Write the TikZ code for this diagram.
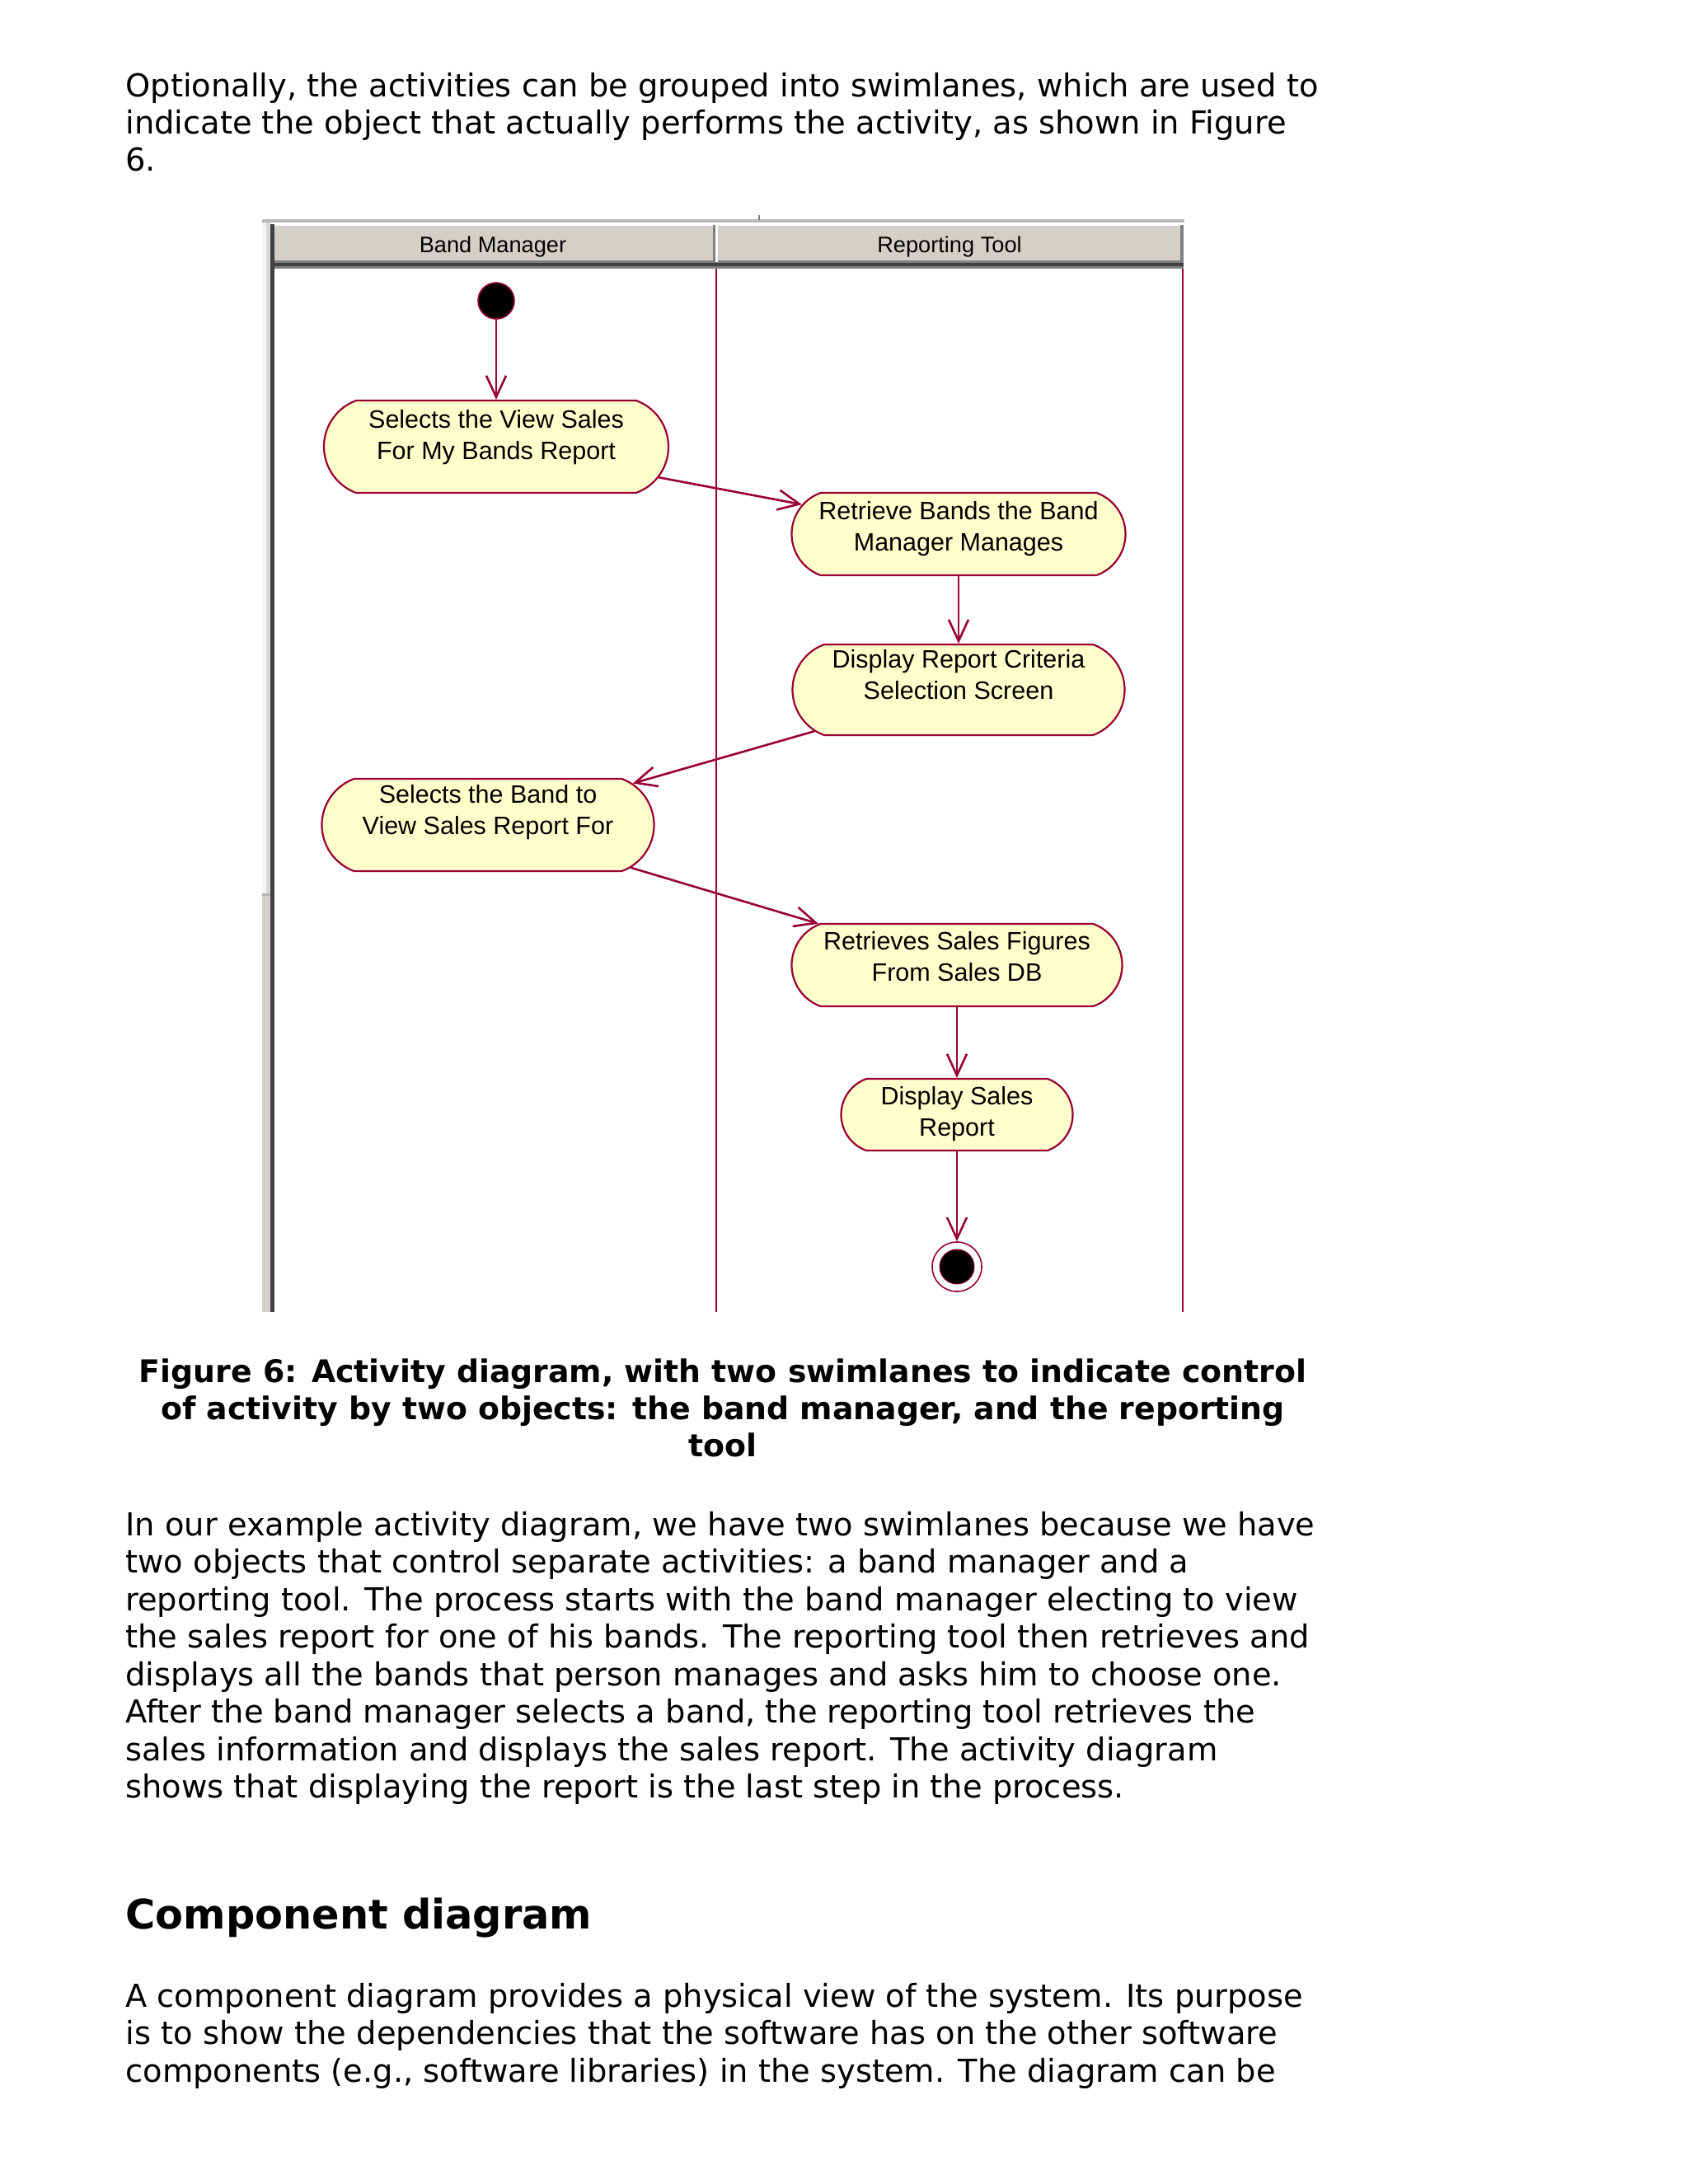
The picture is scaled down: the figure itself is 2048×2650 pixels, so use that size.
\documentclass[tikz,border=0pt]{standalone}
\usepackage{fontspec}
\setmainfont{DejaVu Sans}
\newfontfamily\rosefont{Liberation Sans}
\usetikzlibrary{shapes.misc,arrows.meta}
\definecolor{rose}{RGB}{153,0,51}
\definecolor{actfill}{RGB}{255,255,204}
\definecolor{wingray}{RGB}{212,208,200}
\definecolor{windark}{RGB}{64,64,64}
\definecolor{winmid}{RGB}{128,128,128}
\newcommand\acttext[3]{\makebox[0pt]{\raisebox{#3}[0pt][0pt]{\begin{tabular}[b]{@{}c@{}}#1\\#2\end{tabular}}}}
\tikzset{
  bodytext/.style={anchor=base west, inner sep=0pt, font=\fontsize{19.2pt}{23pt}\selectfont},
  captext/.style={anchor=base, inner sep=0pt, font=\fontsize{18.9pt}{22.8pt}\selectfont\bfseries},
  headtext/.style={anchor=base west, inner sep=0pt, font=\fontsize{24.7pt}{29pt}\selectfont\bfseries},
  lanehead/.style={anchor=base, inner sep=0pt, font=\rosefont\fontsize{13.6pt}{16pt}\selectfont},
  act/.style={rounded rectangle, rounded rectangle arc length=140, draw=rose, fill=actfill,
    line width=1.1pt, inner sep=0pt, font=\rosefont\fontsize{15.25pt}{19pt}\selectfont},
  flow/.style={draw=rose, line width=1.3pt, -{Straight Barb[length=13pt,width=12pt]}},
  laneline/.style={draw=rose, line width=1.2pt},
}
\begin{document}
\begin{tikzpicture}[x=0.5pt,y=-0.5pt]
\path[use as bounding box, fill=white] (0,0) rectangle (2048,2650);

% ---- first paragraph
\node[bodytext] (p1a) at (152,117) {Optionally, the activities can be grouped into swimlanes, which are used to};
\node[bodytext] (p1b) at (152,162) {indicate the object that actually performs the activity, as shown in Figure};
\node[bodytext] (p1c) at (152,207) {6.};

% ---- window chrome
\fill[gray!55] (318,266) rectangle (1437,270);
\draw[winmid, line width=1pt] (921,261) -- (921,267);
\fill[wingray] (318,270) rectangle (328,1592);
\fill[gray!30] (318,270) rectangle (328,1085);
\fill[gray!8] (318,270) rectangle (323,1085);
\fill[gray!60] (318,1084) rectangle (328,1087);
\fill[windark] (328,272) rectangle (333,1592);
\fill[wingray] (333,273) rectangle (1436,318);
\fill[white] (333,272) rectangle (1436,274);
\fill[winmid] (333,316) rectangle (1436,319);
\fill[windark] (333,319) rectangle (1436,323);
\fill[winmid] (333,323) rectangle (1436,326);
\fill[winmid] (865,273) rectangle (868,318);
\fill[white] (868,273) rectangle (871,318);
\fill[winmid] (1432,273) rectangle (1436,318);
\node[lanehead] (hbm) at (598,306) {Band Manager};
\node[lanehead] (hrt) at (1152,306) {Reporting Tool};
\draw[laneline] (869,326) -- (869,1592);
\draw[laneline] (1435,326) -- (1435,1592);

% ---- activity nodes
\node[circle, fill=black, draw=rose, line width=0.8pt, minimum size=22pt, inner sep=0pt] (init) at (602,365) {};
\node[act, minimum width=209pt, minimum height=56pt] (n1) at (602,542)
  {\acttext{Selects the View Sales}{For My Bands Report}{-7.5pt}};
\node[act, minimum width=202.5pt, minimum height=50pt] (n2) at (1163,648)
  {\acttext{Retrieve Bands the Band}{Manager Manages}{-10pt}};
\node[act, minimum width=201.5pt, minimum height=55pt] (n3) at (1163,837)
  {\acttext{Display Report Criteria}{Selection Screen}{-5.5pt}};
\node[act, minimum width=201.5pt, minimum height=56pt] (n4) at (592,1001)
  {\acttext{Selects the Band to}{View Sales Report For}{-5.5pt}};
\node[act, minimum width=200.5pt, minimum height=50pt] (n5) at (1161,1171)
  {\acttext{Retrieves Sales Figures}{From Sales DB}{-9.5pt}};
\node[act, minimum width=140.5pt, minimum height=43.5pt] (n6) at (1161,1352.5)
  {\acttext{Display Sales}{Report}{-12.75pt}};
\node[circle, draw=rose, line width=0.8pt, fill=white, minimum size=30pt, inner sep=0pt] (fin) at (1161,1537) {};
\node[circle, fill=black, draw=rose, line width=0.5pt, minimum size=21pt, inner sep=0pt] (finin) at (fin.center) {};

\draw[flow] (init) -- (n1);
\draw[flow] (n1) -- (n2);
\draw[flow] (n2) -- (n3);
\draw[flow] (n3) -- (n4);
\draw[flow] (n4) -- (n5);
\draw[flow] (n5) -- (n6);
\draw[flow] (n6) -- (fin);

% ---- caption
\node[captext] (c1) at (877,1677) {Figure 6: Activity diagram, with two swimlanes to indicate control};
\node[captext] (c2) at (877,1722) {of activity by two objects: the band manager, and the reporting};
\node[captext] (c3) at (877,1767) {tool};

% ---- second paragraph
\node[bodytext] (p2a) at (152,1863) {In our example activity diagram, we have two swimlanes because we have};
\node[bodytext] (p2b) at (152,1908.5) {two objects that control separate activities: a band manager and a};
\node[bodytext] (p2c) at (152,1954) {reporting tool. The process starts with the band manager electing to view};
\node[bodytext] (p2d) at (152,1999.5) {the sales report for one of his bands. The reporting tool then retrieves and};
\node[bodytext] (p2e) at (152,2045) {displays all the bands that person manages and asks him to choose one.};
\node[bodytext] (p2f) at (152,2090.5) {After the band manager selects a band, the reporting tool retrieves the};
\node[bodytext] (p2g) at (152,2136) {sales information and displays the sales report. The activity diagram};
\node[bodytext] (p2h) at (152,2181.5) {shows that displaying the report is the last step in the process.};

% ---- heading
\node[headtext] (h1) at (152,2340) {Component diagram};

% ---- third paragraph
\node[bodytext] (p3a) at (152,2435) {A component diagram provides a physical view of the system. Its purpose};
\node[bodytext] (p3b) at (152,2480.5) {is to show the dependencies that the software has on the other software};
\node[bodytext] (p3c) at (152,2526) {components (e.g., software libraries) in the system. The diagram can be};
\end{tikzpicture}
\end{document}
